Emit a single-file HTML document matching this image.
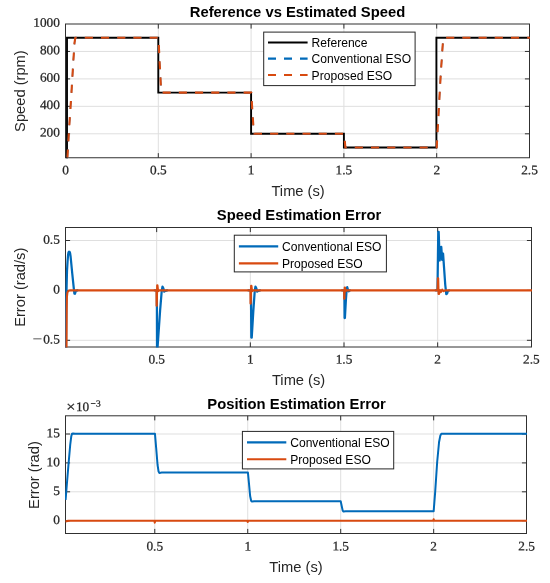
<!DOCTYPE html>
<html lang="en"><head><meta charset="utf-8"><title>ESO comparison</title>
<style>
html,body{margin:0;padding:0;background:#fff;}
svg{display:block;}
.tk{font-family:"Liberation Serif", "DejaVu Serif", serif;font-size:13.0px;fill:#262626;stroke:#262626;stroke-width:0.27px;}
.lg{font-family:"Liberation Sans", Arial, Helvetica, sans-serif;font-size:12.1px;fill:#000;}
.lb{font-family:"Liberation Sans", Arial, Helvetica, sans-serif;font-size:14.7px;fill:#262626;}
.tt{font-family:"Liberation Sans", Arial, Helvetica, sans-serif;font-size:14.8px;font-weight:bold;fill:#000;}
</style></head><body>
<svg width="550" height="583" viewBox="0 0 550 583">
<rect width="550" height="583" fill="#fff"/>
<clipPath id="c1"><rect x="65.0" y="23.5" width="465.0" height="134.75"/></clipPath>
<line x1="158.3" y1="24.0" x2="158.3" y2="157.75" stroke="#dfdfdf" stroke-width="1"/>
<line x1="251.1" y1="24.0" x2="251.1" y2="157.75" stroke="#dfdfdf" stroke-width="1"/>
<line x1="343.9" y1="24.0" x2="343.9" y2="157.75" stroke="#dfdfdf" stroke-width="1"/>
<line x1="436.7" y1="24.0" x2="436.7" y2="157.75" stroke="#dfdfdf" stroke-width="1"/>
<line x1="65.5" y1="133.8" x2="529.5" y2="133.8" stroke="#dfdfdf" stroke-width="1"/>
<line x1="65.5" y1="106.35000000000001" x2="529.5" y2="106.35000000000001" stroke="#dfdfdf" stroke-width="1"/>
<line x1="65.5" y1="78.9" x2="529.5" y2="78.9" stroke="#dfdfdf" stroke-width="1"/>
<line x1="65.5" y1="51.45" x2="529.5" y2="51.45" stroke="#dfdfdf" stroke-width="1"/>
<rect x="65.5" y="24.0" width="464.0" height="133.75" fill="none" stroke="#303030" stroke-width="1"/>
<text transform="translate(65.50,174.35) rotate(0.25) scale(1.02,1)" text-anchor="middle" class="tk">0</text>
<line x1="158.3" y1="157.75" x2="158.3" y2="153.15" stroke="#303030" stroke-width="1"/>
<line x1="158.3" y1="24.0" x2="158.3" y2="28.6" stroke="#303030" stroke-width="1"/>
<text transform="translate(158.30,174.35) rotate(0.25) scale(1.02,1)" text-anchor="middle" class="tk">0.5</text>
<line x1="251.1" y1="157.75" x2="251.1" y2="153.15" stroke="#303030" stroke-width="1"/>
<line x1="251.1" y1="24.0" x2="251.1" y2="28.6" stroke="#303030" stroke-width="1"/>
<text transform="translate(251.10,174.35) rotate(0.25) scale(1.02,1)" text-anchor="middle" class="tk">1</text>
<line x1="343.9" y1="157.75" x2="343.9" y2="153.15" stroke="#303030" stroke-width="1"/>
<line x1="343.9" y1="24.0" x2="343.9" y2="28.6" stroke="#303030" stroke-width="1"/>
<text transform="translate(343.90,174.35) rotate(0.25) scale(1.02,1)" text-anchor="middle" class="tk">1.5</text>
<line x1="436.7" y1="157.75" x2="436.7" y2="153.15" stroke="#303030" stroke-width="1"/>
<line x1="436.7" y1="24.0" x2="436.7" y2="28.6" stroke="#303030" stroke-width="1"/>
<text transform="translate(436.70,174.35) rotate(0.25) scale(1.02,1)" text-anchor="middle" class="tk">2</text>
<text transform="translate(529.50,174.35) rotate(0.25) scale(1.02,1)" text-anchor="middle" class="tk">2.5</text>
<line x1="65.5" y1="133.8" x2="70.1" y2="133.8" stroke="#303030" stroke-width="1"/>
<line x1="529.5" y1="133.8" x2="524.9" y2="133.8" stroke="#303030" stroke-width="1"/>
<text transform="translate(59.80,136.60) rotate(0.25) scale(1.02,1)" text-anchor="end" class="tk">200</text>
<line x1="65.5" y1="106.35000000000001" x2="70.1" y2="106.35000000000001" stroke="#303030" stroke-width="1"/>
<line x1="529.5" y1="106.35000000000001" x2="524.9" y2="106.35000000000001" stroke="#303030" stroke-width="1"/>
<text transform="translate(59.80,109.15) rotate(0.25) scale(1.02,1)" text-anchor="end" class="tk">400</text>
<line x1="65.5" y1="78.9" x2="70.1" y2="78.9" stroke="#303030" stroke-width="1"/>
<line x1="529.5" y1="78.9" x2="524.9" y2="78.9" stroke="#303030" stroke-width="1"/>
<text transform="translate(59.80,81.70) rotate(0.25) scale(1.02,1)" text-anchor="end" class="tk">600</text>
<line x1="65.5" y1="51.45" x2="70.1" y2="51.45" stroke="#303030" stroke-width="1"/>
<line x1="529.5" y1="51.45" x2="524.9" y2="51.45" stroke="#303030" stroke-width="1"/>
<text transform="translate(59.80,54.25) rotate(0.25) scale(1.02,1)" text-anchor="end" class="tk">800</text>
<text transform="translate(59.80,26.80) rotate(0.25) scale(1.02,1)" text-anchor="end" class="tk">1000</text>
<g clip-path="url(#c1)" fill="none" stroke-linejoin="round">
<path d="M67.00,159.75 L67.00,37.73 L158.30,37.73 L158.30,92.62 L251.10,92.62 L251.10,133.80 L343.90,133.80 L343.90,147.53 L436.40,147.53 L436.40,37.73 L531.50,37.73" stroke="#000" stroke-width="1.9" stroke-linejoin="miter"/>
<path d="M67.40,157.75 L69.00,130.00 L71.00,100.00 L73.40,60.00 L74.50,43.00 L75.30,37.73 L158.50,37.73 L159.50,60.00 L160.90,86.00 L161.70,92.62 L251.30,92.62 L252.30,110.00 L253.50,128.00 L254.30,133.80 L344.10,133.80 L345.40,147.53 L436.70,147.53 L438.20,120.00 L440.70,75.00 L442.70,45.00 L443.70,37.73 L531.50,37.73" stroke="#006AB9" stroke-width="1.4" stroke-dasharray="8.1 8.1" stroke-dashoffset="-0.2"/>
<path d="M67.40,157.75 L69.00,130.00 L71.00,100.00 L73.40,60.00 L74.50,43.00 L75.30,37.73 L158.50,37.73 L159.50,60.00 L160.90,86.00 L161.70,92.62 L251.30,92.62 L252.30,110.00 L253.50,128.00 L254.30,133.80 L344.10,133.80 L345.40,147.53 L436.70,147.53 L438.20,120.00 L440.70,75.00 L442.70,45.00 L443.70,37.73 L531.50,37.73" stroke="#D84A10" stroke-width="2.1" stroke-dasharray="8.1 8.1" stroke-dashoffset="-0.2"/>
</g>
<text x="297.5" y="17.3" text-anchor="middle" class="tt">Reference vs Estimated Speed</text>
<text x="298.1" y="196.0" text-anchor="middle" class="lb">Time (s)</text>
<text transform="translate(24.9,91.075) rotate(-90)" text-anchor="middle" class="lb">Speed (rpm)</text>
<rect x="263.7" y="32.1" width="151.40000000000003" height="53.49999999999999" fill="#fff" stroke="#262626" stroke-width="1"/>
<line x1="268" y1="42.5" x2="307.6" y2="42.5" stroke="#000" stroke-width="2.15"/>
<text x="311.6" y="47.1" class="lg">Reference</text>
<line x1="268" y1="58.6" x2="307.6" y2="58.6" stroke="#006AB9" stroke-width="2.15" stroke-dasharray="8 8"/>
<text x="311.6" y="63.2" class="lg">Conventional ESO</text>
<line x1="268" y1="75.0" x2="307.6" y2="75.0" stroke="#D84A10" stroke-width="2.15" stroke-dasharray="8 8"/>
<text x="311.6" y="79.6" class="lg">Proposed ESO</text>
<clipPath id="c2"><rect x="65.0" y="227.0" width="467.0" height="120.5"/></clipPath>
<line x1="156.66666666666669" y1="227.5" x2="156.66666666666669" y2="347.0" stroke="#dfdfdf" stroke-width="1"/>
<line x1="250.33333333333334" y1="227.5" x2="250.33333333333334" y2="347.0" stroke="#dfdfdf" stroke-width="1"/>
<line x1="344.0" y1="227.5" x2="344.0" y2="347.0" stroke="#dfdfdf" stroke-width="1"/>
<line x1="437.6666666666667" y1="227.5" x2="437.6666666666667" y2="347.0" stroke="#dfdfdf" stroke-width="1"/>
<line x1="65.5" y1="240.49999999999997" x2="531.5" y2="240.49999999999997" stroke="#dfdfdf" stroke-width="1"/>
<line x1="65.5" y1="290.4" x2="531.5" y2="290.4" stroke="#dfdfdf" stroke-width="1"/>
<line x1="65.5" y1="340.29999999999995" x2="531.5" y2="340.29999999999995" stroke="#dfdfdf" stroke-width="1"/>
<rect x="65.5" y="227.5" width="466.0" height="119.5" fill="none" stroke="#303030" stroke-width="1"/>
<line x1="156.66666666666669" y1="347.0" x2="156.66666666666669" y2="342.4" stroke="#303030" stroke-width="1"/>
<line x1="156.66666666666669" y1="227.5" x2="156.66666666666669" y2="232.1" stroke="#303030" stroke-width="1"/>
<text transform="translate(156.67,363.60) rotate(0.25) scale(1.02,1)" text-anchor="middle" class="tk">0.5</text>
<line x1="250.33333333333334" y1="347.0" x2="250.33333333333334" y2="342.4" stroke="#303030" stroke-width="1"/>
<line x1="250.33333333333334" y1="227.5" x2="250.33333333333334" y2="232.1" stroke="#303030" stroke-width="1"/>
<text transform="translate(250.33,363.60) rotate(0.25) scale(1.02,1)" text-anchor="middle" class="tk">1</text>
<line x1="344.0" y1="347.0" x2="344.0" y2="342.4" stroke="#303030" stroke-width="1"/>
<line x1="344.0" y1="227.5" x2="344.0" y2="232.1" stroke="#303030" stroke-width="1"/>
<text transform="translate(344.00,363.60) rotate(0.25) scale(1.02,1)" text-anchor="middle" class="tk">1.5</text>
<line x1="437.6666666666667" y1="347.0" x2="437.6666666666667" y2="342.4" stroke="#303030" stroke-width="1"/>
<line x1="437.6666666666667" y1="227.5" x2="437.6666666666667" y2="232.1" stroke="#303030" stroke-width="1"/>
<text transform="translate(437.67,363.60) rotate(0.25) scale(1.02,1)" text-anchor="middle" class="tk">2</text>
<text transform="translate(531.33,363.60) rotate(0.25) scale(1.02,1)" text-anchor="middle" class="tk">2.5</text>
<line x1="65.5" y1="240.49999999999997" x2="70.1" y2="240.49999999999997" stroke="#303030" stroke-width="1"/>
<line x1="531.5" y1="240.49999999999997" x2="526.9" y2="240.49999999999997" stroke="#303030" stroke-width="1"/>
<text transform="translate(59.80,243.70) rotate(0.25) scale(1.02,1)" text-anchor="end" class="tk">0.5</text>
<line x1="65.5" y1="290.4" x2="70.1" y2="290.4" stroke="#303030" stroke-width="1"/>
<line x1="531.5" y1="290.4" x2="526.9" y2="290.4" stroke="#303030" stroke-width="1"/>
<text transform="translate(59.80,293.60) rotate(0.25) scale(1.02,1)" text-anchor="end" class="tk">0</text>
<line x1="65.5" y1="340.29999999999995" x2="70.1" y2="340.29999999999995" stroke="#303030" stroke-width="1"/>
<line x1="531.5" y1="340.29999999999995" x2="526.9" y2="340.29999999999995" stroke="#303030" stroke-width="1"/>
<text transform="translate(59.80,343.50) rotate(0.25) scale(1.02,1)" text-anchor="end" class="tk"><tspan font-size="17" dy="1.1" style="stroke-width:0.1px">−</tspan><tspan dy="-1.1" dx="0.9">0.5</tspan></text>
<g clip-path="url(#c2)" fill="none" stroke-linejoin="round" stroke-linecap="round">
<path d="M65.90,350.00 L66.30,300.00 L66.70,282.00 L67.00,271.00 L67.60,260.60 L68.10,254.60 L68.50,252.40 L69.00,251.70 L69.60,251.90 L70.10,253.20 L70.60,256.50 L72.30,274.00 L73.90,289.40 L74.40,293.60 L74.90,293.80 L75.90,290.80 L77.50,290.40" stroke="#006AB9" stroke-width="2.25"/>
<path d="M154.67,290.40 L156.87,290.40 L157.02,350.00 L157.37,350.00 L160.07,311.00 L161.67,291.50 L162.47,286.60 L163.27,288.00 L164.27,291.60 L165.47,290.90 L167.17,290.40" stroke="#006AB9" stroke-width="2.25"/>
<path d="M248.33,290.40 L250.93,290.40 L251.33,337.60 L251.73,337.60 L253.33,311.00 L254.73,291.00 L255.43,286.60 L256.23,288.00 L257.23,291.60 L258.43,290.90 L260.13,290.40" stroke="#006AB9" stroke-width="2.25"/>
<path d="M342.00,290.40 L344.40,290.40 L344.60,318.00 L344.90,318.00 L345.90,300.00 L346.70,289.00 L347.20,287.20 L347.90,289.50 L348.70,291.30 L350.00,290.40" stroke="#006AB9" stroke-width="2.25"/>
<path d="M435.67,290.40 L437.47,290.40 L438.27,231.80 L438.67,231.80 L439.67,260.50 L441.27,246.80 L442.17,259.80 L443.07,253.60 L444.07,268.00 L445.27,285.00 L446.27,294.20 L447.07,293.60 L447.87,291.00 L449.17,290.40" stroke="#006AB9" stroke-width="2.25"/>
<path d="M66.50,350.00 L66.70,310.00 L66.90,297.00 L67.40,292.60 L68.40,290.80 L70.30,290.40 L156.47,290.40 L156.57,305.80 L156.77,305.80 L157.17,285.40 L157.47,285.40 L158.07,291.20 L159.27,290.40 L250.43,290.40 L250.53,303.60 L250.73,303.60 L251.13,285.80 L251.43,285.80 L252.03,291.20 L253.23,290.40 L344.10,290.40 L344.20,298.80 L344.40,298.80 L344.70,287.60 L345.00,287.60 L345.50,291.20 L346.50,290.40 L437.57,290.40 L437.87,278.40 L438.17,278.40 L438.57,294.00 L439.07,294.00 L440.07,290.00 L441.07,291.80 L442.27,289.60 L443.47,291.20 L444.97,290.40 L534.50,290.40" stroke="#D84A10" stroke-width="2.1"/>
</g>
<text x="299.0" y="220.4" text-anchor="middle" class="tt">Speed Estimation Error</text>
<text x="298.6" y="385.2" text-anchor="middle" class="lb">Time (s)</text>
<text transform="translate(24.9,287.25) rotate(-90)" text-anchor="middle" class="lb">Error (rad/s)</text>
<rect x="234.3" y="235.2" width="152.09999999999997" height="36.69999999999999" fill="#fff" stroke="#262626" stroke-width="1"/>
<line x1="238.9" y1="246.3" x2="278.2" y2="246.3" stroke="#006AB9" stroke-width="2.15"/>
<text x="282.0" y="250.9" class="lg">Conventional ESO</text>
<line x1="238.9" y1="263.3" x2="278.2" y2="263.3" stroke="#D84A10" stroke-width="2.15"/>
<text x="282.0" y="267.90000000000003" class="lg">Proposed ESO</text>
<clipPath id="c3"><rect x="65.0" y="415.3" width="462.0" height="118.69999999999999"/></clipPath>
<line x1="154.76666666666665" y1="415.8" x2="154.76666666666665" y2="533.5" stroke="#dfdfdf" stroke-width="1"/>
<line x1="247.7333333333333" y1="415.8" x2="247.7333333333333" y2="533.5" stroke="#dfdfdf" stroke-width="1"/>
<line x1="340.7" y1="415.8" x2="340.7" y2="533.5" stroke="#dfdfdf" stroke-width="1"/>
<line x1="433.66666666666663" y1="415.8" x2="433.66666666666663" y2="533.5" stroke="#dfdfdf" stroke-width="1"/>
<line x1="65.5" y1="520.7" x2="526.5" y2="520.7" stroke="#dfdfdf" stroke-width="1"/>
<line x1="65.5" y1="491.8" x2="526.5" y2="491.8" stroke="#dfdfdf" stroke-width="1"/>
<line x1="65.5" y1="462.90000000000003" x2="526.5" y2="462.90000000000003" stroke="#dfdfdf" stroke-width="1"/>
<line x1="65.5" y1="434.0" x2="526.5" y2="434.0" stroke="#dfdfdf" stroke-width="1"/>
<rect x="65.5" y="415.8" width="461.0" height="117.69999999999999" fill="none" stroke="#303030" stroke-width="1"/>
<line x1="154.76666666666665" y1="533.5" x2="154.76666666666665" y2="528.9" stroke="#303030" stroke-width="1"/>
<line x1="154.76666666666665" y1="415.8" x2="154.76666666666665" y2="420.40000000000003" stroke="#303030" stroke-width="1"/>
<text transform="translate(154.77,550.40) rotate(0.25) scale(1.02,1)" text-anchor="middle" class="tk">0.5</text>
<line x1="247.7333333333333" y1="533.5" x2="247.7333333333333" y2="528.9" stroke="#303030" stroke-width="1"/>
<line x1="247.7333333333333" y1="415.8" x2="247.7333333333333" y2="420.40000000000003" stroke="#303030" stroke-width="1"/>
<text transform="translate(247.73,550.40) rotate(0.25) scale(1.02,1)" text-anchor="middle" class="tk">1</text>
<line x1="340.7" y1="533.5" x2="340.7" y2="528.9" stroke="#303030" stroke-width="1"/>
<line x1="340.7" y1="415.8" x2="340.7" y2="420.40000000000003" stroke="#303030" stroke-width="1"/>
<text transform="translate(340.70,550.40) rotate(0.25) scale(1.02,1)" text-anchor="middle" class="tk">1.5</text>
<line x1="433.66666666666663" y1="533.5" x2="433.66666666666663" y2="528.9" stroke="#303030" stroke-width="1"/>
<line x1="433.66666666666663" y1="415.8" x2="433.66666666666663" y2="420.40000000000003" stroke="#303030" stroke-width="1"/>
<text transform="translate(433.67,550.40) rotate(0.25) scale(1.02,1)" text-anchor="middle" class="tk">2</text>
<text transform="translate(526.63,550.40) rotate(0.25) scale(1.02,1)" text-anchor="middle" class="tk">2.5</text>
<line x1="65.5" y1="520.7" x2="70.1" y2="520.7" stroke="#303030" stroke-width="1"/>
<line x1="526.5" y1="520.7" x2="521.9" y2="520.7" stroke="#303030" stroke-width="1"/>
<text transform="translate(59.80,524.00) rotate(0.25) scale(1.02,1)" text-anchor="end" class="tk">0</text>
<line x1="65.5" y1="491.8" x2="70.1" y2="491.8" stroke="#303030" stroke-width="1"/>
<line x1="526.5" y1="491.8" x2="521.9" y2="491.8" stroke="#303030" stroke-width="1"/>
<text transform="translate(59.80,495.10) rotate(0.25) scale(1.02,1)" text-anchor="end" class="tk">5</text>
<line x1="65.5" y1="462.90000000000003" x2="70.1" y2="462.90000000000003" stroke="#303030" stroke-width="1"/>
<line x1="526.5" y1="462.90000000000003" x2="521.9" y2="462.90000000000003" stroke="#303030" stroke-width="1"/>
<text transform="translate(59.80,466.20) rotate(0.25) scale(1.02,1)" text-anchor="end" class="tk">10</text>
<line x1="65.5" y1="434.0" x2="70.1" y2="434.0" stroke="#303030" stroke-width="1"/>
<line x1="526.5" y1="434.0" x2="521.9" y2="434.0" stroke="#303030" stroke-width="1"/>
<text transform="translate(59.80,437.30) rotate(0.25) scale(1.02,1)" text-anchor="end" class="tk">15</text>
<g clip-path="url(#c3)" fill="none" stroke-linejoin="round" stroke-linecap="butt">
<path d="M65.60,499.80 L67.20,480.00 L68.70,462.00 L70.20,445.00 L71.30,436.20 L72.00,433.70 L73.00,433.50 L75.00,433.80 L154.97,433.80 L156.17,448.00 L157.57,465.00 L158.57,471.60 L159.37,472.90 L161.77,472.60 L247.93,472.60 L248.93,483.00 L250.13,496.00 L251.13,500.80 L251.93,501.60 L254.23,501.30 L340.70,501.30 L341.70,506.00 L342.70,510.60 L343.50,511.50 L345.70,511.20 L433.67,511.20 L435.17,492.00 L437.17,462.00 L439.07,442.00 L440.37,435.40 L441.37,433.70 L443.17,433.80 L529.50,433.80" stroke="#006AB9" stroke-width="2.0"/>
<path d="M65.50,521.40 L67.50,520.90 L70.00,520.80 L154.47,520.80 L154.77,522.60 L155.17,520.80 L247.43,520.80 L247.73,522.00 L248.13,520.80 L433.37,520.80 L433.67,519.20 L434.07,520.80 L529.50,520.80" stroke="#D84A10" stroke-width="2.1"/>
</g>
<text x="296.5" y="408.9" text-anchor="middle" class="tt">Position Estimation Error</text>
<text x="296.0" y="571.7" text-anchor="middle" class="lb">Time (s)</text>
<text transform="translate(38.6,475.04999999999995) rotate(-90)" text-anchor="middle" class="lb">Error (rad)</text>
<text transform="translate(66.3,411.6) rotate(0.25) scale(1.25,1.12)" class="tk">×</text>
<text transform="translate(75.9,411.0) rotate(0.25) scale(1.02,1)" class="tk">10</text>
<text transform="translate(90.6,406.5) rotate(0.25) scale(1.02,1)" class="tk" style="font-size:9.2px">−3</text>
<rect x="242.4" y="431.4" width="151.29999999999998" height="37.5" fill="#fff" stroke="#262626" stroke-width="1"/>
<line x1="247.0" y1="442.3" x2="286.3" y2="442.3" stroke="#006AB9" stroke-width="2.15"/>
<text x="290.2" y="446.90000000000003" class="lg">Conventional ESO</text>
<line x1="247.0" y1="459.2" x2="286.3" y2="459.2" stroke="#D84A10" stroke-width="2.15"/>
<text x="290.2" y="463.8" class="lg">Proposed ESO</text>
</svg></body></html>
